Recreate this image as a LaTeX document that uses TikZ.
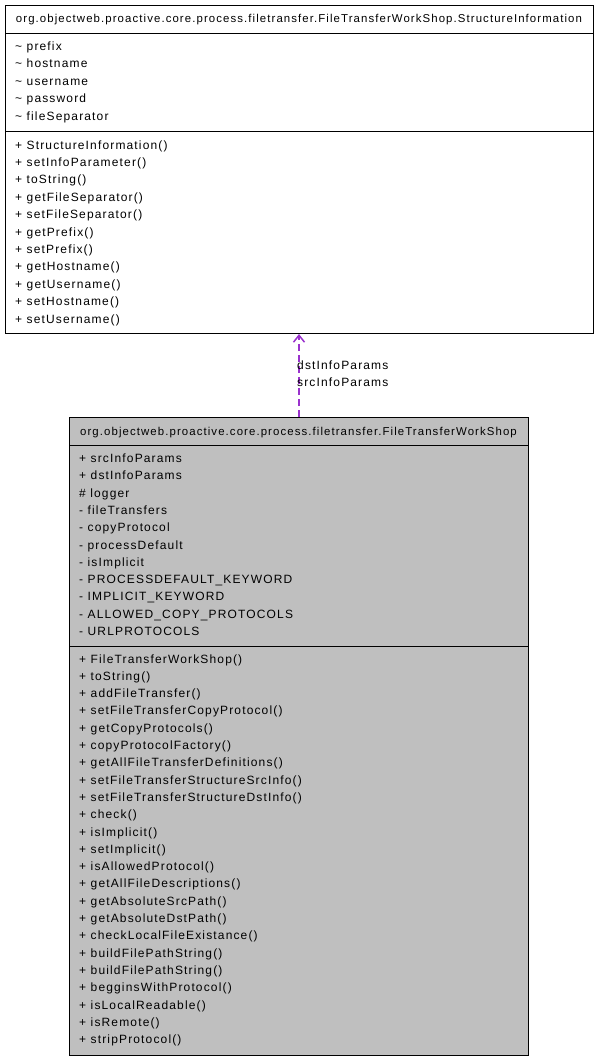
\documentclass[tikz,border=0pt]{standalone}
\usepackage{fontspec}
\setmainfont{Liberation Sans}[LetterSpace=9.6]
\usetikzlibrary{arrows.meta}
\definecolor{edgepurple}{HTML}{9A32CD}
\definecolor{boxgray}{HTML}{BFBFBF}
\newcommand{\tld}{{\char"7E}}
\begin{document}
\begin{tikzpicture}[x=1pt,y=-1pt,
  classbox/.style={draw=black, line width=1pt, anchor=north west, inner sep=0pt},
  member/.style={anchor=west, inner sep=0pt, text height=8pt, text depth=2pt, font=\fontsize{12}{14}\selectfont},
  title/.style={anchor=center, inner sep=0pt, text height=8pt, text depth=2pt, font=\fontsize{11.4}{13}\selectfont},
  sep/.style={line width=1pt},
  dep/.style={draw=edgepurple, line width=1.5pt, dash pattern=on 7pt off 4pt, -{Straight Barb[length=7pt,width=11pt,line width=1.5pt]}},
  elabel/.style={anchor=west, inner sep=0pt, text height=8pt, text depth=2pt, font=\fontsize{12}{14}\selectfont}]
\useasboundingbox (0,0) rectangle (597,1061);
% Top class
\node[classbox, fill=white, minimum width=588pt, minimum height=328pt] (si) at (5,5) {};
\node[title] (sit) at (299,19) {org.objectweb.proactive.core.process.filetransfer.FileTransferWorkShop.StructureInformation};
\draw[sep] (5,33) -- (593,33);
\draw[sep] (5,131) -- (593,131);
\foreach \t [count=\i] in {\tld\ prefix,\tld\ hostname,\tld\ username,\tld\ password,\tld\ fileSeparator}
  \node[member] (sia\i) at (15,{47+(\i-1)*17.6}) {\t};
\foreach \t [count=\i] in {+ StructureInformation(),+ setInfoParameter(),+ toString(),+ getFileSeparator(),+ setFileSeparator(),+ getPrefix(),+ setPrefix(),+ getHostname(),+ getUsername(),+ setHostname(),+ setUsername()}
  \node[member] (sim\i) at (15,{146+(\i-1)*17.4}) {\t};
% Bottom class
\node[classbox, fill=boxgray, minimum width=459pt, minimum height=638pt] (ftw) at (69,417) {};
\node[title] (ftwt) at (298.5,432) {org.objectweb.proactive.core.process.filetransfer.FileTransferWorkShop};
\draw[sep] (69,445) -- (528,445);
\draw[sep] (69,646) -- (528,646);
\foreach \t [count=\i] in {+ srcInfoParams,+ dstInfoParams,\# logger,- fileTransfers,- copyProtocol,- processDefault,- isImplicit,- PROCESSDEFAULT\_KEYWORD,- IMPLICIT\_KEYWORD,- ALLOWED\_COPY\_PROTOCOLS,- URLPROTOCOLS}
  \node[member] (fa\i) at (79,{459.5+(\i-1)*17.3}) {\t};
\foreach \t [count=\i] in {+ FileTransferWorkShop(),+ toString(),+ addFileTransfer(),+ setFileTransferCopyProtocol(),+ getCopyProtocols(),+ copyProtocolFactory(),+ getAllFileTransferDefinitions(),+ setFileTransferStructureSrcInfo(),+ setFileTransferStructureDstInfo(),+ check(),+ isImplicit(),+ setImplicit(),+ isAllowedProtocol(),+ getAllFileDescriptions(),+ getAbsoluteSrcPath(),+ getAbsoluteDstPath(),+ checkLocalFileExistance(),+ buildFilePathString(),+ buildFilePathString(),+ begginsWithProtocol(),+ isLocalReadable(),+ isRemote(),+ stripProtocol()}
  \node[member] (fm\i) at (79,{660+(\i-1)*17.3}) {\t};
% Dependency
\draw[dep] (ftw.north) -- (ftw.north |- si.south);
\node[elabel] (l1) at (297,366) {dstInfoParams};
\node[elabel] (l2) at (297,383) {srcInfoParams};
\end{tikzpicture}
\end{document}
